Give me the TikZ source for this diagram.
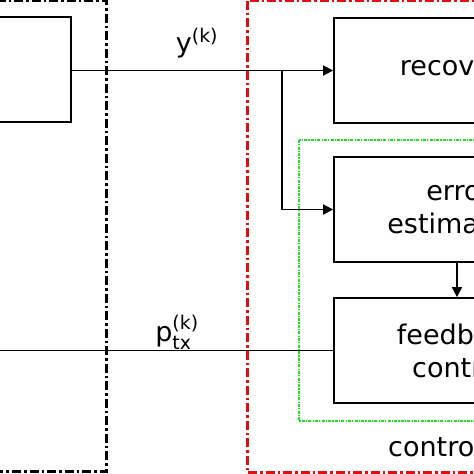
\documentclass[tikz,border=0pt]{standalone}
\usepackage{amsmath}
\usepackage{fontspec}
\setmainfont{DejaVu Sans}
\usetikzlibrary{arrows.meta}
\definecolor{ctlred}{RGB}{225,15,15}
\definecolor{estgreen}{RGB}{30,225,30}
\tikzset{
  blk/.style={draw, line width=1.8pt, minimum width=250pt, minimum height=105pt, align=center, inner sep=0pt,
    font=\fontsize{27}{33}\selectfont},
  srcblk/.style={draw, line width=1.8pt, minimum width=150pt, minimum height=105pt, inner sep=0pt},
  conn/.style={line width=1.8pt},
  arr/.style={conn, -{Triangle[length=10pt,width=10pt]}},
  lbl/.style={font=\fontsize{27}{33}\selectfont, inner sep=0pt, anchor=base},
  blackframe/.style={line width=3pt, dash pattern=on 9pt off 3pt on 2.5pt off 3pt},
  redframe/.style={draw=ctlred, line width=3pt, dash pattern=on 9pt off 3pt on 2.5pt off 3pt},
  greenframe/.style={draw=estgreen, line width=2.5pt, dash pattern=on 3pt off 1.2pt on 1.2pt off 1.2pt},
}
\begin{document}
\begin{tikzpicture}[x=1pt,y=-1pt]
\clip (0,0) rectangle (474,474);
\fill[white] (0,0) rectangle (474,474);
% frames
\draw[blackframe] (-60,0.5) rectangle (106,471);
\draw[redframe] (247,0.5) rectangle (560,472);
\draw[greenframe] (299,140) rectangle (560,421);
% blocks
\node[srcblk] (src) at (-4,69.5) {};
\node[blk] (rec) at (459,70.5) {recovery};
\node[blk] (err) at (459,209.5) {error\\estimation};
\node[blk] (fb) at (459,350.5) {feedback\\control};
\node[lbl, anchor=base west] (ctl) at (388,456) {controller};
% connectors
\coordinate (br) at (282,70.5);
\coordinate (pl) at (-5,350.5);
\draw[arr] (src.east |- rec.west) -- (rec.west);
\draw[arr] (br) |- (err.west);
\draw[arr] (err.south -| 457,0) -- (fb.north -| 457,0);
\draw[conn] (fb.west) -- (pl);
% labels
\node[lbl] (ylab) at (197,52) {$\text{y}^{\text{(k)}}$};
\node[lbl] (plab) at (177,341) {$\text{p}^{\text{(k)}}_{\text{tx}}$};
\end{tikzpicture}
\end{document}
